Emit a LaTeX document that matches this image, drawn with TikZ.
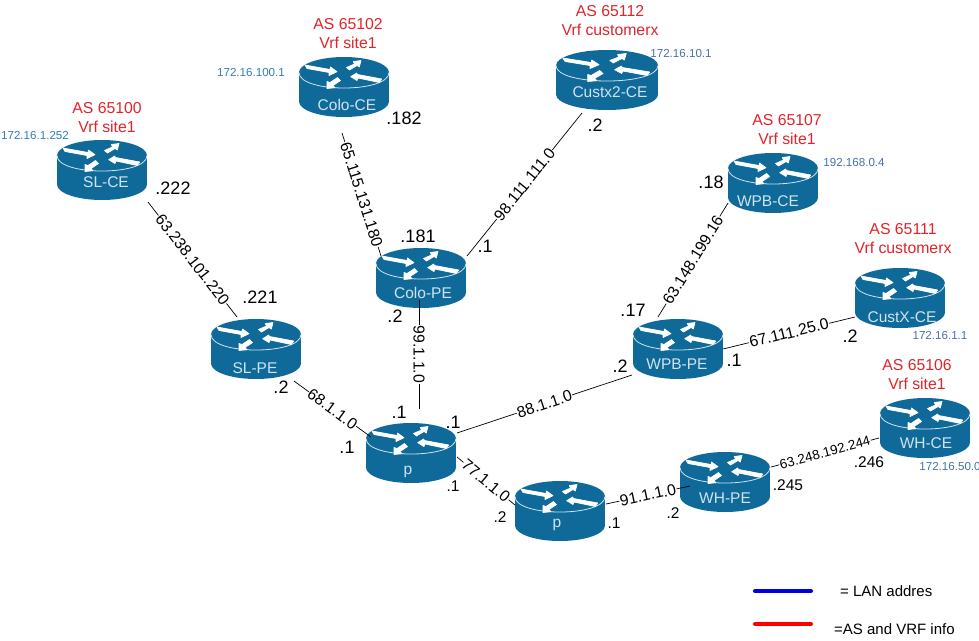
\documentclass[tikz,border=0pt]{standalone}
\usepackage{fontspec}
\setmainfont{Liberation Sans}
\definecolor{rfill}{HTML}{0F6A9A}
\definecolor{rtext}{HTML}{CFE3EE}
\definecolor{asred}{HTML}{E0242A}
\definecolor{ipa}{HTML}{2F7FB5}
\definecolor{ipb}{HTML}{4A70A8}
\newcommand{\fs}[1]{\fontsize{#1}{#1}\selectfont}
\tikzset{
  routerbox/.style={rectangle,inner sep=0pt,minimum height=60pt},
  routertext/.style={inner sep=0pt,text=rtext,font=\fontsize{15.5}{18}\selectfont},
  routerarrow/.style={fill=white,draw=white,line width=0.7pt,line join=round},
  aslabel/.style={inner sep=0pt,align=center,text=asred,font=\fontsize{15.8}{19}\selectfont},
  ipleft/.style={inner sep=0pt,text=ipa,font=\fontsize{11.6}{13}\selectfont},
  ipright/.style={inner sep=0pt,text=ipb,font=\fontsize{11.6}{13}\selectfont},
  bigdot/.style={inner sep=0pt,font=\fontsize{18}{20}\selectfont},
  smalldot/.style={inner sep=0pt,font=\fontsize{15.5}{18}\selectfont},
  link/.style={draw=black,line width=0.7pt},
  linklabel/.style={midway,sloped,fill=white,inner sep=0.6pt,font=\fontsize{15.8}{18}\selectfont},
  legendline/.style={line width=4pt,line cap=round},
  legendtext/.style={inner sep=0pt,anchor=west,font=\fontsize{15}{18}\selectfont},
}
% \router[width]{name}{x}{y}{text}{text dx}{text dy}
\newcommand{\router}[7][90]{%
  \begin{scope}[shift={(#3,#4)},xscale=#1/90]
    \fill[rfill] (-45,-14.5) rectangle (45,14.5);
    \fill[rfill] (0,-14.5) ellipse[x radius=45,y radius=15.5];
    \fill[rfill] (0,14.5) ellipse[x radius=45,y radius=15.5];
    \draw[rtext,line width=0.8pt] (-45,-14.5) .. controls (-45,6.2) and (45,6.2) .. (45,-14.5);
    \path[routerarrow] (-39,-22) -- (-14,-17.5) -- (-13.5,-20) -- (-7,-15.3) -- (-15,-11.5) -- (-15,-14.5) -- (-37,-18.5) -- cycle;
    \path[routerarrow] (2.5,-19.5) -- (10.5,-23) -- (9.3,-25.5) -- (17,-26.5) -- (15.3,-20) -- (13,-21.5) -- (5.5,-17) -- cycle;
    \path[routerarrow] (37.7,-8) -- (13.5,-12.5) -- (12.7,-14) -- (6.7,-10.3) -- (13,-6.5) -- (14,-9) -- (35.3,-4.5) -- cycle;
    \path[routerarrow] (-6.5,-9.5) -- (-3.5,-6.5) -- (-11,-1.5) -- (-9,0.7) -- (-17,1.5) -- (-17,-5.5) -- (-14,-4.5) -- cycle;
  \end{scope}
  \node[routerbox,minimum width=#1pt] (#2) at (#3,#4) {};
  \node[routertext] (#2-name) at (#3+#6,#4+#7) {#5};
}
\newcommand{\conn}[7]{%
  \draw[link] ([shift={(#2)}]#1.center) -- node[linklabel] (#7) {#6} ([shift={(#4)}]#3.center);
}
\begin{document}
\begin{tikzpicture}[x=1pt,y=-1pt]
\fill[white] (0,0) rectangle (979,640);
\useasboundingbox (0,0) rectangle (979,640);

\router{slce}{102}{170}{SL-CE}{4}{12}
\router{coloce}{344}{87}{Colo-CE}{3}{18}
\router[102]{custxtwo}{607}{80}{Custx2-CE}{3}{12}
\router{wpbce}{773}{183}{WPB-CE}{-5}{18}
\router{custxce}{900}{298}{CustX-CE}{2}{19}
\router{whce}{925}{428}{WH-CE}{1}{15}
\router{colope}{421}{278}{Colo-PE}{2}{15}
\router{slpe}{256}{349}{SL-PE}{-1}{19}
\router{wpbpe}{678}{349}{WPB-PE}{-1}{15}
\router{pone}{411}{453}{p}{-3}{19}
\router{ptwo}{560}{511}{p}{-3}{14}
\router{whpe}{725}{482}{WH-PE}{0}{16}

\conn{slce}{46,32}{slpe}{-19,-32}{}{63.238.101.220}{la}
\conn{coloce}{-2,46}{colope}{-40,-22}{}{65.115.131.180}{lb}
\conn{custxtwo}{-25,33}{colope}{46,-22}{}{98.111.111.0}{lc}
\conn{colope}{-2,22}{pone}{8,-44}{}{99.1.1.0}{ld}
\conn{slpe}{38,32}{pone}{-40,-16}{}{68.1.1.0}{le}
\conn{pone}{46,-20}{wpbpe}{-46,26}{}{88.1.1.0}{lf}
\conn{pone}{46,4}{ptwo}{-45,-6}{}{77.1.1.0}{lg}
\conn{ptwo}{46,-7}{whpe}{-35,4}{}{91.1.1.0}{lh}
\conn{whpe}{46,-15}{whce}{-46,10}{}{\fs{13.4}63.248.192.244}{li}
\conn{wpbpe}{-20,-32}{wpbce}{-45,20}{}{63.148.199.16}{lj}
\conn{wpbpe}{45,0}{custxce}{-45,19}{}{67.111.25.0}{lk}

\node[aslabel] (asa) at (107,118) {AS 65100\\Vrf site1};
\node[aslabel] (asb) at (348,34) {AS 65102\\Vrf site1};
\node[aslabel] (asc) at (610,21) {AS 65112\\Vrf customerx};
\node[aslabel] (asd) at (787,130) {AS 65107\\Vrf site1};
\node[aslabel] (ase) at (903,239) {AS 65111\\Vrf customerx};
\node[aslabel] (asf) at (917,375) {AS 65106\\Vrf site1};

\node[ipleft] (ipa) at (35,136) {172.16.1.252};
\node[ipleft] (ipb) at (251,73) {172.16.100.1};
\node[ipright] (ipc) at (681,54) {172.16.10.1};
\node[ipright] (ipd) at (854,163) {192.168.0.4};
\node[ipright] (ipe) at (940,336) {172.16.1.1};
\node[ipright] (ipf) at (950,466) {172.16.50.0};

\node[bigdot] (da) at (173,188) {.222};
\node[bigdot] (db) at (260,297) {.221};
\node[bigdot] (dc) at (281,387) {.2};
\node[bigdot] (dd) at (347,447) {.1};
\node[bigdot] (de) at (399,412) {.1};
\node[bigdot] (df) at (453,422) {.1};
\node[smalldot] (dg) at (453,486) {.1};
\node[smalldot] (dh) at (500,517) {.2};
\node[smalldot] (di) at (614,523) {.1};
\node[bigdot] (dj) at (404,118) {.182};
\node[bigdot] (dk) at (418,236) {.181};
\node[bigdot] (dl) at (485,246) {.1};
\node[bigdot] (dm) at (595,125) {.2};
\node[bigdot] (dn) at (395,316) {.2};
\node[bigdot] (do) at (620,366) {.2};
\node[bigdot] (dp) at (633,310) {.17};
\node[bigdot] (dq) at (711,182) {.18};
\node[bigdot] (dr) at (734,360) {.1};
\node[bigdot] (ds) at (850,336) {.2};
\node[smalldot] (dt) at (869,462) {.246};
\node[smalldot] (du) at (788,485) {.245};
\node[smalldot] (dv) at (673,513) {.2};

\coordinate (lega) at (755,591);
\coordinate (legb) at (811,591);
\coordinate (legc) at (755,624);
\coordinate (legd) at (811,624);
\draw[legendline,blue!90!black] (lega) -- (legb);
\draw[legendline,red] (legc) -- (legd);
\node[legendtext] (lta) at (840,591) {= LAN addres};
\node[legendtext] (ltb) at (834,629) {=AS and VRF info};
\end{tikzpicture}
\end{document}
